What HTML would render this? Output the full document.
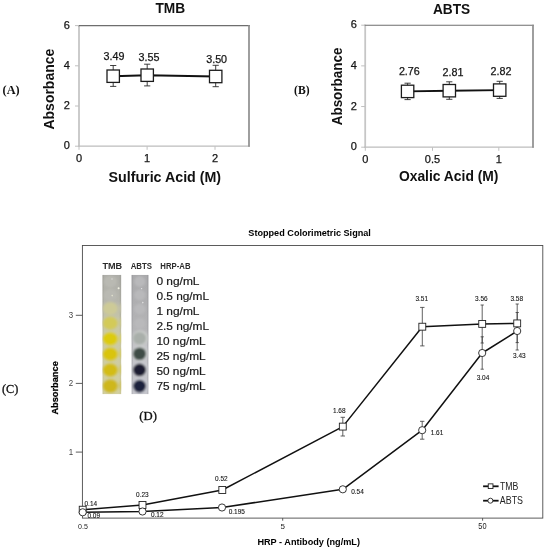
<!DOCTYPE html>
<html lang="en"><head><meta charset="utf-8"><title>Stopped Colorimetric Signal</title>
<style>html,body{margin:0;padding:0;background:#fff;}body{width:549px;height:550px;overflow:hidden;}svg{display:block;}</style>
</head><body>
<svg width="549" height="550" viewBox="0 0 549 550">
<defs>
<filter id="blur1" x="-10%" y="-10%" width="120%" height="120%"><feGaussianBlur stdDeviation="0.9"/></filter>
<filter id="blur2" x="-10%" y="-10%" width="120%" height="120%"><feGaussianBlur stdDeviation="0.5"/></filter>
<clipPath id="clipT"><rect x="102.3" y="274.8" width="18.9" height="119.5"/></clipPath>
<clipPath id="clipA"><rect x="131.4" y="274.8" width="17.2" height="119.5"/></clipPath>
<linearGradient id="stripT" x1="0" y1="0" x2="0" y2="1"><stop offset="0" stop-color="#adada8"/><stop offset="0.22" stop-color="#b6b6ad"/><stop offset="0.4" stop-color="#c9c8a8"/><stop offset="1" stop-color="#d3d0a0"/></linearGradient>
<linearGradient id="stripA" x1="0" y1="0" x2="0" y2="1"><stop offset="0" stop-color="#a9a9ab"/><stop offset="0.45" stop-color="#b4b4b6"/><stop offset="0.6" stop-color="#c4c4c8"/><stop offset="1" stop-color="#c6c6cc"/></linearGradient>
<linearGradient id="edgeF" x1="0" y1="0" x2="0" y2="1"><stop offset="0" stop-color="#9c9c96" stop-opacity="0.6"/><stop offset="0.35" stop-color="#a4a49a" stop-opacity="0.45"/><stop offset="0.6" stop-color="#b8b69a" stop-opacity="0.2"/><stop offset="1" stop-color="#bcb88c" stop-opacity="0.3"/></linearGradient>
<linearGradient id="edgeG" x1="0" y1="0" x2="0" y2="1"><stop offset="0" stop-color="#97979a" stop-opacity="0.6"/><stop offset="0.5" stop-color="#9c9ca0" stop-opacity="0.5"/><stop offset="1" stop-color="#a2a2a8" stop-opacity="0.45"/></linearGradient>
</defs>
<rect x="0" y="0" width="549" height="550" fill="#ffffff"/>
<line x1="79.0" y1="25.1" x2="79.0" y2="146.79999999999998" stroke="#c6c6c6" stroke-width="1.8"/>
<line x1="78.1" y1="146.2" x2="249.9" y2="146.2" stroke="#bdbdbd" stroke-width="1.3"/>
<line x1="78.1" y1="25.6" x2="249.9" y2="25.6" stroke="#6e6e6e" stroke-width="1.1"/>
<line x1="249.0" y1="25.1" x2="249.0" y2="146.79999999999998" stroke="#8e8e8e" stroke-width="1.7"/>
<line x1="75.0" y1="146.2" x2="79.0" y2="146.2" stroke="#c0c0c0" stroke-width="1"/>
<text x="66.89999999999999" y="149.4" font-family='"Liberation Sans", Arial, sans-serif' font-size="11" font-weight="normal" text-anchor="middle" fill="#151515" stroke="#151515" stroke-width="0.25">0</text>
<line x1="75.0" y1="106.0" x2="79.0" y2="106.0" stroke="#c0c0c0" stroke-width="1"/>
<text x="66.89999999999999" y="109.2" font-family='"Liberation Sans", Arial, sans-serif' font-size="11" font-weight="normal" text-anchor="middle" fill="#151515" stroke="#151515" stroke-width="0.25">2</text>
<line x1="75.0" y1="65.8" x2="79.0" y2="65.8" stroke="#c0c0c0" stroke-width="1"/>
<text x="66.89999999999999" y="69.0" font-family='"Liberation Sans", Arial, sans-serif' font-size="11" font-weight="normal" text-anchor="middle" fill="#151515" stroke="#151515" stroke-width="0.25">4</text>
<line x1="75.0" y1="25.60000000000001" x2="79.0" y2="25.60000000000001" stroke="#c0c0c0" stroke-width="1"/>
<text x="66.89999999999999" y="28.8" font-family='"Liberation Sans", Arial, sans-serif' font-size="11" font-weight="normal" text-anchor="middle" fill="#151515" stroke="#151515" stroke-width="0.25">6</text>
<line x1="79.0" y1="146.2" x2="79.0" y2="149.79999999999998" stroke="#c0c0c0" stroke-width="1"/>
<text x="79.0" y="161.9" font-family='"Liberation Sans", Arial, sans-serif' font-size="11" font-weight="normal" text-anchor="middle" fill="#151515" stroke="#151515" stroke-width="0.25">0</text>
<line x1="147.1" y1="146.2" x2="147.1" y2="149.79999999999998" stroke="#c0c0c0" stroke-width="1"/>
<text x="147.1" y="161.9" font-family='"Liberation Sans", Arial, sans-serif' font-size="11" font-weight="normal" text-anchor="middle" fill="#151515" stroke="#151515" stroke-width="0.25">1</text>
<line x1="215.0" y1="146.2" x2="215.0" y2="149.79999999999998" stroke="#c0c0c0" stroke-width="1"/>
<text x="215.0" y="161.9" font-family='"Liberation Sans", Arial, sans-serif' font-size="11" font-weight="normal" text-anchor="middle" fill="#151515" stroke="#151515" stroke-width="0.25">2</text>
<text x="170.3" y="12.8" font-family='"Liberation Sans", Arial, sans-serif' font-size="13.9" font-weight="bold" text-anchor="middle" fill="#111" textLength="29.7" lengthAdjust="spacingAndGlyphs">TMB</text>
<text x="108.5" y="181.5" font-family='"Liberation Sans", Arial, sans-serif' font-size="14" font-weight="bold" text-anchor="start" fill="#111" textLength="112.6" lengthAdjust="spacingAndGlyphs">Sulfuric Acid (M)</text>
<text x="54.2" y="129.5" font-family='"Liberation Sans", Arial, sans-serif' font-size="14" font-weight="bold" text-anchor="start" fill="#111" textLength="80.8" lengthAdjust="spacingAndGlyphs" transform="rotate(-90 54.2 129.5)">Absorbance</text>
<text x="2.6" y="93.9" font-family='"Liberation Serif", "Times New Roman", serif' font-size="12.4" font-weight="bold" text-anchor="start" fill="#111" textLength="17.1" lengthAdjust="spacingAndGlyphs">(A)</text>
<line x1="113.2" y1="65.5" x2="113.2" y2="86.4" stroke="#2a2a2a" stroke-width="0.9"/>
<line x1="110.10000000000001" y1="65.5" x2="116.3" y2="65.5" stroke="#2a2a2a" stroke-width="0.9"/>
<line x1="110.10000000000001" y1="86.4" x2="116.3" y2="86.4" stroke="#2a2a2a" stroke-width="0.9"/>
<line x1="147.2" y1="64.2" x2="147.2" y2="85.9" stroke="#2a2a2a" stroke-width="0.9"/>
<line x1="144.1" y1="64.2" x2="150.29999999999998" y2="64.2" stroke="#2a2a2a" stroke-width="0.9"/>
<line x1="144.1" y1="85.9" x2="150.29999999999998" y2="85.9" stroke="#2a2a2a" stroke-width="0.9"/>
<line x1="215.7" y1="65.3" x2="215.7" y2="86.7" stroke="#2a2a2a" stroke-width="0.9"/>
<line x1="212.6" y1="65.3" x2="218.79999999999998" y2="65.3" stroke="#2a2a2a" stroke-width="0.9"/>
<line x1="212.6" y1="86.7" x2="218.79999999999998" y2="86.7" stroke="#2a2a2a" stroke-width="0.9"/>
<polyline points="113.2,76.2 147.2,75.2 215.7,76.5" fill="none" stroke="#111" stroke-width="1.9"/>
<rect x="107.0" y="70.0" width="12.4" height="12.4" fill="#fff" stroke="#1c1c1c" stroke-width="1.3"/>
<text x="103.5" y="59.8" font-family='"Liberation Sans", Arial, sans-serif' font-size="10.2" font-weight="normal" text-anchor="start" fill="#151515" textLength="20.9" lengthAdjust="spacingAndGlyphs" stroke="#151515" stroke-width="0.25">3.49</text>
<rect x="141.0" y="69.0" width="12.4" height="12.4" fill="#fff" stroke="#1c1c1c" stroke-width="1.3"/>
<text x="138.6" y="61.0" font-family='"Liberation Sans", Arial, sans-serif' font-size="10.2" font-weight="normal" text-anchor="start" fill="#151515" textLength="20.9" lengthAdjust="spacingAndGlyphs" stroke="#151515" stroke-width="0.25">3.55</text>
<rect x="209.5" y="70.3" width="12.4" height="12.4" fill="#fff" stroke="#1c1c1c" stroke-width="1.3"/>
<text x="206.2" y="62.6" font-family='"Liberation Sans", Arial, sans-serif' font-size="10.2" font-weight="normal" text-anchor="start" fill="#151515" textLength="20.9" lengthAdjust="spacingAndGlyphs" stroke="#151515" stroke-width="0.25">3.50</text>
<line x1="365.2" y1="24.7" x2="365.2" y2="147.79999999999998" stroke="#c6c6c6" stroke-width="1.8"/>
<line x1="364.3" y1="147.2" x2="533.9" y2="147.2" stroke="#bdbdbd" stroke-width="1.3"/>
<line x1="364.3" y1="25.2" x2="533.9" y2="25.2" stroke="#6e6e6e" stroke-width="1.1"/>
<line x1="533.0" y1="24.7" x2="533.0" y2="147.79999999999998" stroke="#8e8e8e" stroke-width="1.7"/>
<line x1="361.2" y1="147.2" x2="365.2" y2="147.2" stroke="#c0c0c0" stroke-width="1"/>
<text x="353.8" y="150.4" font-family='"Liberation Sans", Arial, sans-serif' font-size="11" font-weight="normal" text-anchor="middle" fill="#151515" stroke="#151515" stroke-width="0.25">0</text>
<line x1="361.2" y1="106.53333333333333" x2="365.2" y2="106.53333333333333" stroke="#c0c0c0" stroke-width="1"/>
<text x="353.8" y="109.7" font-family='"Liberation Sans", Arial, sans-serif' font-size="11" font-weight="normal" text-anchor="middle" fill="#151515" stroke="#151515" stroke-width="0.25">2</text>
<line x1="361.2" y1="65.86666666666666" x2="365.2" y2="65.86666666666666" stroke="#c0c0c0" stroke-width="1"/>
<text x="353.8" y="69.1" font-family='"Liberation Sans", Arial, sans-serif' font-size="11" font-weight="normal" text-anchor="middle" fill="#151515" stroke="#151515" stroke-width="0.25">4</text>
<line x1="361.2" y1="25.200000000000003" x2="365.2" y2="25.200000000000003" stroke="#c0c0c0" stroke-width="1"/>
<text x="353.8" y="28.4" font-family='"Liberation Sans", Arial, sans-serif' font-size="11" font-weight="normal" text-anchor="middle" fill="#151515" stroke="#151515" stroke-width="0.25">6</text>
<line x1="365.3" y1="147.2" x2="365.3" y2="150.79999999999998" stroke="#c0c0c0" stroke-width="1"/>
<text x="365.3" y="163.1" font-family='"Liberation Sans", Arial, sans-serif' font-size="11" font-weight="normal" text-anchor="middle" fill="#151515" stroke="#151515" stroke-width="0.25">0</text>
<line x1="432.5" y1="147.2" x2="432.5" y2="150.79999999999998" stroke="#c0c0c0" stroke-width="1"/>
<text x="432.5" y="163.1" font-family='"Liberation Sans", Arial, sans-serif' font-size="11" font-weight="normal" text-anchor="middle" fill="#151515" stroke="#151515" stroke-width="0.25">0.5</text>
<line x1="498.8" y1="147.2" x2="498.8" y2="150.79999999999998" stroke="#c0c0c0" stroke-width="1"/>
<text x="498.8" y="163.1" font-family='"Liberation Sans", Arial, sans-serif' font-size="11" font-weight="normal" text-anchor="middle" fill="#151515" stroke="#151515" stroke-width="0.25">1</text>
<text x="451.6" y="14.3" font-family='"Liberation Sans", Arial, sans-serif' font-size="13.9" font-weight="bold" text-anchor="middle" fill="#111" textLength="37.3" lengthAdjust="spacingAndGlyphs">ABTS</text>
<text x="398.9" y="180.9" font-family='"Liberation Sans", Arial, sans-serif' font-size="14" font-weight="bold" text-anchor="start" fill="#111" textLength="99.6" lengthAdjust="spacingAndGlyphs">Oxalic Acid (M)</text>
<text x="342.3" y="125.3" font-family='"Liberation Sans", Arial, sans-serif' font-size="14" font-weight="bold" text-anchor="start" fill="#111" textLength="77.8" lengthAdjust="spacingAndGlyphs" transform="rotate(-90 342.3 125.3)">Absorbance</text>
<text x="294.1" y="93.9" font-family='"Liberation Serif", "Times New Roman", serif' font-size="12.4" font-weight="bold" text-anchor="start" fill="#111" textLength="15.5" lengthAdjust="spacingAndGlyphs">(B)</text>
<line x1="407.6" y1="83.2" x2="407.6" y2="99.6" stroke="#2a2a2a" stroke-width="0.9"/>
<line x1="404.5" y1="83.2" x2="410.70000000000005" y2="83.2" stroke="#2a2a2a" stroke-width="0.9"/>
<line x1="404.5" y1="99.6" x2="410.70000000000005" y2="99.6" stroke="#2a2a2a" stroke-width="0.9"/>
<line x1="449.3" y1="81.8" x2="449.3" y2="99.3" stroke="#2a2a2a" stroke-width="0.9"/>
<line x1="446.2" y1="81.8" x2="452.40000000000003" y2="81.8" stroke="#2a2a2a" stroke-width="0.9"/>
<line x1="446.2" y1="99.3" x2="452.40000000000003" y2="99.3" stroke="#2a2a2a" stroke-width="0.9"/>
<line x1="499.7" y1="81.3" x2="499.7" y2="98.4" stroke="#2a2a2a" stroke-width="0.9"/>
<line x1="496.59999999999997" y1="81.3" x2="502.8" y2="81.3" stroke="#2a2a2a" stroke-width="0.9"/>
<line x1="496.59999999999997" y1="98.4" x2="502.8" y2="98.4" stroke="#2a2a2a" stroke-width="0.9"/>
<polyline points="407.6,91.4 449.3,90.7 499.7,90.1" fill="none" stroke="#111" stroke-width="1.9"/>
<rect x="401.40000000000003" y="85.2" width="12.4" height="12.4" fill="#fff" stroke="#1c1c1c" stroke-width="1.3"/>
<text x="398.9" y="75.1" font-family='"Liberation Sans", Arial, sans-serif' font-size="10.2" font-weight="normal" text-anchor="start" fill="#151515" textLength="20.9" lengthAdjust="spacingAndGlyphs" stroke="#151515" stroke-width="0.25">2.76</text>
<rect x="443.1" y="84.5" width="12.4" height="12.4" fill="#fff" stroke="#1c1c1c" stroke-width="1.3"/>
<text x="442.5" y="75.9" font-family='"Liberation Sans", Arial, sans-serif' font-size="10.2" font-weight="normal" text-anchor="start" fill="#151515" textLength="20.9" lengthAdjust="spacingAndGlyphs" stroke="#151515" stroke-width="0.25">2.81</text>
<rect x="493.5" y="83.89999999999999" width="12.4" height="12.4" fill="#fff" stroke="#1c1c1c" stroke-width="1.3"/>
<text x="490.59999999999997" y="74.5" font-family='"Liberation Sans", Arial, sans-serif' font-size="10.2" font-weight="normal" text-anchor="start" fill="#151515" textLength="20.9" lengthAdjust="spacingAndGlyphs" stroke="#151515" stroke-width="0.25">2.82</text>
<rect x="82.4" y="245.5" width="460.4" height="272.6" fill="none" stroke="#4a4a4a" stroke-width="0.9"/>
<line x1="75.8" y1="315.3" x2="82.4" y2="315.3" stroke="#4a4a4a" stroke-width="0.9"/>
<text x="71.0" y="317.8" font-family='"Liberation Sans", Arial, sans-serif' font-size="9" font-weight="normal" text-anchor="middle" fill="#444" textLength="4.4" lengthAdjust="spacingAndGlyphs">3</text>
<line x1="75.8" y1="383.4" x2="82.4" y2="383.4" stroke="#4a4a4a" stroke-width="0.9"/>
<text x="71.0" y="385.9" font-family='"Liberation Sans", Arial, sans-serif' font-size="9" font-weight="normal" text-anchor="middle" fill="#444" textLength="4.4" lengthAdjust="spacingAndGlyphs">2</text>
<line x1="75.8" y1="452.1" x2="82.4" y2="452.1" stroke="#4a4a4a" stroke-width="0.9"/>
<text x="71.0" y="454.6" font-family='"Liberation Sans", Arial, sans-serif' font-size="9" font-weight="normal" text-anchor="middle" fill="#444" textLength="4.4" lengthAdjust="spacingAndGlyphs">1</text>
<line x1="282.7" y1="518.1" x2="282.7" y2="520.7" stroke="#4a4a4a" stroke-width="0.9"/>
<line x1="482.6" y1="518.1" x2="482.6" y2="520.7" stroke="#4a4a4a" stroke-width="0.9"/>
<text x="78.0" y="528.6" font-family='"Liberation Sans", Arial, sans-serif' font-size="8" font-weight="normal" text-anchor="start" fill="#222" textLength="9.8" lengthAdjust="spacingAndGlyphs">0.5</text>
<text x="282.7" y="528.5" font-family='"Liberation Sans", Arial, sans-serif' font-size="8" font-weight="normal" text-anchor="middle" fill="#222">5</text>
<text x="482.4" y="528.5" font-family='"Liberation Sans", Arial, sans-serif' font-size="8.2" font-weight="normal" text-anchor="middle" fill="#222" textLength="8.2" lengthAdjust="spacingAndGlyphs">50</text>
<text x="248.3" y="236.3" font-family='"Liberation Sans", Arial, sans-serif' font-size="9.2" font-weight="bold" text-anchor="start" fill="#000" textLength="122.6" lengthAdjust="spacingAndGlyphs">Stopped Colorimetric Signal</text>
<text x="257.4" y="544.8" font-family='"Liberation Sans", Arial, sans-serif' font-size="9.2" font-weight="bold" text-anchor="start" fill="#000" textLength="102.6" lengthAdjust="spacingAndGlyphs">HRP - Antibody (ng/mL)</text>
<text x="57.8" y="414.6" font-family='"Liberation Sans", Arial, sans-serif' font-size="9.0" font-weight="bold" text-anchor="start" fill="#000" textLength="53.4" lengthAdjust="spacingAndGlyphs" transform="rotate(-90 57.8 414.6)" stroke="#000" stroke-width="0.25">Absorbance</text>
<text x="2.0" y="392.5" font-family='"Liberation Serif", "Times New Roman", serif' font-size="12.4" font-weight="normal" text-anchor="start" fill="#111" textLength="16.4" lengthAdjust="spacingAndGlyphs" stroke="#111" stroke-width="0.3">(C)</text>
<text x="139.3" y="420.0" font-family='"Liberation Serif", "Times New Roman", serif' font-size="12.4" font-weight="normal" text-anchor="start" fill="#111" textLength="17.6" lengthAdjust="spacingAndGlyphs" stroke="#111" stroke-width="0.3">(D)</text>
<line x1="342.8" y1="417.3" x2="342.8" y2="436.0" stroke="#3a3a3a" stroke-width="0.8"/>
<line x1="340.6" y1="417.3" x2="345.0" y2="417.3" stroke="#3a3a3a" stroke-width="0.8"/>
<line x1="340.6" y1="436.0" x2="345.0" y2="436.0" stroke="#3a3a3a" stroke-width="0.8"/>
<line x1="422.3" y1="307.4" x2="422.3" y2="345.9" stroke="#3a3a3a" stroke-width="0.8"/>
<line x1="420.1" y1="307.4" x2="424.5" y2="307.4" stroke="#3a3a3a" stroke-width="0.8"/>
<line x1="420.1" y1="345.9" x2="424.5" y2="345.9" stroke="#3a3a3a" stroke-width="0.8"/>
<line x1="482.2" y1="305.0" x2="482.2" y2="343.0" stroke="#3a3a3a" stroke-width="0.8"/>
<line x1="480.59999999999997" y1="305.0" x2="483.8" y2="305.0" stroke="#3a3a3a" stroke-width="0.8"/>
<line x1="480.59999999999997" y1="343.0" x2="483.8" y2="343.0" stroke="#3a3a3a" stroke-width="0.8"/>
<line x1="517.2" y1="304.0" x2="517.2" y2="342.6" stroke="#3a3a3a" stroke-width="0.8"/>
<line x1="515.6" y1="304.0" x2="518.8000000000001" y2="304.0" stroke="#3a3a3a" stroke-width="0.8"/>
<line x1="515.6" y1="342.6" x2="518.8000000000001" y2="342.6" stroke="#3a3a3a" stroke-width="0.8"/>
<line x1="422.2" y1="421.3" x2="422.2" y2="439.2" stroke="#3a3a3a" stroke-width="0.8"/>
<line x1="420.0" y1="421.3" x2="424.4" y2="421.3" stroke="#3a3a3a" stroke-width="0.8"/>
<line x1="420.0" y1="439.2" x2="424.4" y2="439.2" stroke="#3a3a3a" stroke-width="0.8"/>
<line x1="482.2" y1="336.8" x2="482.2" y2="369.2" stroke="#3a3a3a" stroke-width="0.8"/>
<line x1="480.59999999999997" y1="336.8" x2="483.8" y2="336.8" stroke="#3a3a3a" stroke-width="0.8"/>
<line x1="480.59999999999997" y1="369.2" x2="483.8" y2="369.2" stroke="#3a3a3a" stroke-width="0.8"/>
<line x1="517.2" y1="312.5" x2="517.2" y2="350.0" stroke="#3a3a3a" stroke-width="0.8"/>
<line x1="515.6" y1="312.5" x2="518.8000000000001" y2="312.5" stroke="#3a3a3a" stroke-width="0.8"/>
<line x1="515.6" y1="350.0" x2="518.8000000000001" y2="350.0" stroke="#3a3a3a" stroke-width="0.8"/>
<polyline points="82.7,509.7 142.5,505.0 222.3,490.0 342.8,426.6 422.3,326.7 482.2,323.9 517.2,323.4" fill="none" stroke="#111" stroke-width="1.5" stroke-linejoin="round"/>
<polyline points="82.7,512.3 142.5,511.5 222.0,507.5 342.8,489.3 422.2,430.2 482.2,353.0 517.2,331.0" fill="none" stroke="#111" stroke-width="1.5" stroke-linejoin="round"/>
<rect x="79.25" y="506.25" width="6.9" height="6.9" fill="#fff" stroke="#222" stroke-width="0.9"/>
<rect x="139.05" y="501.55" width="6.9" height="6.9" fill="#fff" stroke="#222" stroke-width="0.9"/>
<rect x="218.85000000000002" y="486.55" width="6.9" height="6.9" fill="#fff" stroke="#222" stroke-width="0.9"/>
<rect x="339.35" y="423.15000000000003" width="6.9" height="6.9" fill="#fff" stroke="#222" stroke-width="0.9"/>
<rect x="418.85" y="323.25" width="6.9" height="6.9" fill="#fff" stroke="#222" stroke-width="0.9"/>
<rect x="478.75" y="320.45" width="6.9" height="6.9" fill="#fff" stroke="#222" stroke-width="0.9"/>
<rect x="513.75" y="319.95" width="6.9" height="6.9" fill="#fff" stroke="#222" stroke-width="0.9"/>
<circle cx="82.7" cy="512.3" r="3.6" fill="#fff" stroke="#222" stroke-width="0.9"/>
<circle cx="142.5" cy="511.5" r="3.6" fill="#fff" stroke="#222" stroke-width="0.9"/>
<circle cx="222.0" cy="507.5" r="3.6" fill="#fff" stroke="#222" stroke-width="0.9"/>
<circle cx="342.8" cy="489.3" r="3.6" fill="#fff" stroke="#222" stroke-width="0.9"/>
<circle cx="422.2" cy="430.2" r="3.6" fill="#fff" stroke="#222" stroke-width="0.9"/>
<circle cx="482.2" cy="353.0" r="3.6" fill="#fff" stroke="#222" stroke-width="0.9"/>
<circle cx="517.2" cy="331.0" r="3.6" fill="#fff" stroke="#222" stroke-width="0.9"/>
<text x="90.8" y="505.6" font-family='"Liberation Sans", Arial, sans-serif' font-size="7.6" font-weight="normal" text-anchor="middle" fill="#151515" textLength="12.6" lengthAdjust="spacingAndGlyphs" stroke="#151515" stroke-width="0.12">0.14</text>
<text x="93.7" y="517.5" font-family='"Liberation Sans", Arial, sans-serif' font-size="7.6" font-weight="normal" text-anchor="middle" fill="#151515" textLength="12.6" lengthAdjust="spacingAndGlyphs" stroke="#151515" stroke-width="0.12">0.09</text>
<text x="142.3" y="497.4" font-family='"Liberation Sans", Arial, sans-serif' font-size="7.6" font-weight="normal" text-anchor="middle" fill="#151515" textLength="12.6" lengthAdjust="spacingAndGlyphs" stroke="#151515" stroke-width="0.12">0.23</text>
<text x="157.2" y="517.2" font-family='"Liberation Sans", Arial, sans-serif' font-size="7.6" font-weight="normal" text-anchor="middle" fill="#151515" textLength="12.6" lengthAdjust="spacingAndGlyphs" stroke="#151515" stroke-width="0.12">0.12</text>
<text x="221.4" y="481.1" font-family='"Liberation Sans", Arial, sans-serif' font-size="7.6" font-weight="normal" text-anchor="middle" fill="#151515" textLength="12.6" lengthAdjust="spacingAndGlyphs" stroke="#151515" stroke-width="0.12">0.52</text>
<text x="236.8" y="514.4" font-family='"Liberation Sans", Arial, sans-serif' font-size="7.6" font-weight="normal" text-anchor="middle" fill="#151515" textLength="16.2" lengthAdjust="spacingAndGlyphs" stroke="#151515" stroke-width="0.12">0.195</text>
<text x="339.2" y="412.8" font-family='"Liberation Sans", Arial, sans-serif' font-size="7.6" font-weight="normal" text-anchor="middle" fill="#151515" textLength="12.6" lengthAdjust="spacingAndGlyphs" stroke="#151515" stroke-width="0.12">1.68</text>
<text x="357.5" y="494.0" font-family='"Liberation Sans", Arial, sans-serif' font-size="7.6" font-weight="normal" text-anchor="middle" fill="#151515" textLength="12.6" lengthAdjust="spacingAndGlyphs" stroke="#151515" stroke-width="0.12">0.54</text>
<text x="421.7" y="301.2" font-family='"Liberation Sans", Arial, sans-serif' font-size="7.6" font-weight="normal" text-anchor="middle" fill="#151515" textLength="12.6" lengthAdjust="spacingAndGlyphs" stroke="#151515" stroke-width="0.12">3.51</text>
<text x="437.0" y="435.0" font-family='"Liberation Sans", Arial, sans-serif' font-size="7.6" font-weight="normal" text-anchor="middle" fill="#151515" textLength="12.6" lengthAdjust="spacingAndGlyphs" stroke="#151515" stroke-width="0.12">1.61</text>
<text x="481.4" y="300.6" font-family='"Liberation Sans", Arial, sans-serif' font-size="7.6" font-weight="normal" text-anchor="middle" fill="#151515" textLength="12.6" lengthAdjust="spacingAndGlyphs" stroke="#151515" stroke-width="0.12">3.56</text>
<text x="483.0" y="380.4" font-family='"Liberation Sans", Arial, sans-serif' font-size="7.6" font-weight="normal" text-anchor="middle" fill="#151515" textLength="12.6" lengthAdjust="spacingAndGlyphs" stroke="#151515" stroke-width="0.12">3.04</text>
<text x="516.7" y="301.2" font-family='"Liberation Sans", Arial, sans-serif' font-size="7.6" font-weight="normal" text-anchor="middle" fill="#151515" textLength="12.6" lengthAdjust="spacingAndGlyphs" stroke="#151515" stroke-width="0.12">3.58</text>
<text x="519.4" y="358.1" font-family='"Liberation Sans", Arial, sans-serif' font-size="7.6" font-weight="normal" text-anchor="middle" fill="#151515" textLength="12.6" lengthAdjust="spacingAndGlyphs" stroke="#151515" stroke-width="0.12">3.43</text>
<line x1="483.1" y1="486.3" x2="498.6" y2="486.3" stroke="#111" stroke-width="1.8"/>
<rect x="488.25" y="483.84999999999997" width="4.7" height="4.7" fill="#fff" stroke="#222" stroke-width="0.9"/>
<text x="500.0" y="489.8" font-family='"Liberation Sans", Arial, sans-serif' font-size="10.2" font-weight="normal" text-anchor="start" fill="#222" textLength="18.4" lengthAdjust="spacingAndGlyphs">TMB</text>
<line x1="483.1" y1="500.7" x2="498.6" y2="500.7" stroke="#111" stroke-width="1.8"/>
<circle cx="490.4" cy="500.7" r="2.5" fill="#fff" stroke="#222" stroke-width="0.9"/>
<text x="499.8" y="504.0" font-family='"Liberation Sans", Arial, sans-serif' font-size="10.2" font-weight="normal" text-anchor="start" fill="#222" textLength="23.2" lengthAdjust="spacingAndGlyphs">ABTS</text>
<text x="102.4" y="268.8" font-family='"Liberation Sans", Arial, sans-serif' font-size="8.4" font-weight="bold" text-anchor="start" fill="#2a2a2a" textLength="19.7" lengthAdjust="spacingAndGlyphs">TMB</text>
<text x="130.7" y="268.8" font-family='"Liberation Sans", Arial, sans-serif' font-size="8.4" font-weight="bold" text-anchor="start" fill="#2a2a2a" textLength="21.3" lengthAdjust="spacingAndGlyphs">ABTS</text>
<text x="160.3" y="268.8" font-family='"Liberation Sans", Arial, sans-serif' font-size="8.4" font-weight="bold" text-anchor="start" fill="#2a2a2a" textLength="30.2" lengthAdjust="spacingAndGlyphs">HRP-AB</text>
<text x="156.4" y="285.3" font-family='"Liberation Sans", Arial, sans-serif' font-size="10.8" font-weight="normal" text-anchor="start" fill="#1a1a1a" textLength="43.1" lengthAdjust="spacingAndGlyphs" stroke="#1a1a1a" stroke-width="0.2">0 ng/mL</text>
<text x="156.4" y="300.3" font-family='"Liberation Sans", Arial, sans-serif' font-size="10.8" font-weight="normal" text-anchor="start" fill="#1a1a1a" textLength="52.7" lengthAdjust="spacingAndGlyphs" stroke="#1a1a1a" stroke-width="0.2">0.5 ng/mL</text>
<text x="156.4" y="315.3" font-family='"Liberation Sans", Arial, sans-serif' font-size="10.8" font-weight="normal" text-anchor="start" fill="#1a1a1a" textLength="43.1" lengthAdjust="spacingAndGlyphs" stroke="#1a1a1a" stroke-width="0.2">1 ng/mL</text>
<text x="156.4" y="330.0" font-family='"Liberation Sans", Arial, sans-serif' font-size="10.8" font-weight="normal" text-anchor="start" fill="#1a1a1a" textLength="52.7" lengthAdjust="spacingAndGlyphs" stroke="#1a1a1a" stroke-width="0.2">2.5 ng/mL</text>
<text x="156.4" y="345.0" font-family='"Liberation Sans", Arial, sans-serif' font-size="10.8" font-weight="normal" text-anchor="start" fill="#1a1a1a" textLength="49.300000000000004" lengthAdjust="spacingAndGlyphs" stroke="#1a1a1a" stroke-width="0.2">10 ng/mL</text>
<text x="156.4" y="359.9" font-family='"Liberation Sans", Arial, sans-serif' font-size="10.8" font-weight="normal" text-anchor="start" fill="#1a1a1a" textLength="49.300000000000004" lengthAdjust="spacingAndGlyphs" stroke="#1a1a1a" stroke-width="0.2">25 ng/mL</text>
<text x="156.4" y="374.9" font-family='"Liberation Sans", Arial, sans-serif' font-size="10.8" font-weight="normal" text-anchor="start" fill="#1a1a1a" textLength="49.300000000000004" lengthAdjust="spacingAndGlyphs" stroke="#1a1a1a" stroke-width="0.2">50 ng/mL</text>
<text x="156.4" y="390.1" font-family='"Liberation Sans", Arial, sans-serif' font-size="10.8" font-weight="normal" text-anchor="start" fill="#1a1a1a" textLength="49.300000000000004" lengthAdjust="spacingAndGlyphs" stroke="#1a1a1a" stroke-width="0.2">75 ng/mL</text>
<g clip-path="url(#clipT)">
<rect x="102.4" y="274.8" width="19.4" height="119.5" fill="url(#stripT)"/>
<rect x="102.3" y="274.8" width="1.5" height="119.5" fill="url(#edgeF)"/>
<rect x="119.6" y="274.8" width="1.6" height="119.5" fill="url(#edgeF)"/>
<g filter="url(#blur1)">
<ellipse cx="110.4" cy="281.5" rx="6.6" ry="6.0" fill="#b9b9b2"/>
<ellipse cx="110.4" cy="295.0" rx="6.6" ry="6.0" fill="#b9b9b2"/>
<ellipse cx="125.6" cy="308.1" rx="7.0" ry="6.2" fill="#c4c3a6" opacity="0.8"/>
<ellipse cx="110.4" cy="308.6" rx="7.9" ry="7.1" fill="#c4c3a6"/>
<ellipse cx="110.2" cy="308.6" rx="7.0" ry="6.2" fill="#cecb96" opacity="0.9"/>
<ellipse cx="125.6" cy="322.7" rx="7.0" ry="6.2" fill="#cbc88c" opacity="0.8"/>
<ellipse cx="110.4" cy="323.2" rx="7.9" ry="7.1" fill="#cbc88c"/>
<ellipse cx="110.2" cy="323.2" rx="7.0" ry="6.2" fill="#d3ca58" opacity="1.0"/>
<ellipse cx="125.6" cy="338.4" rx="7.0" ry="6.2" fill="#d6cf6a" opacity="0.8"/>
<ellipse cx="110.4" cy="338.9" rx="7.9" ry="7.1" fill="#d6cf6a"/>
<ellipse cx="110.2" cy="338.9" rx="7.0" ry="6.2" fill="#dccb10" opacity="1.0"/>
<ellipse cx="125.6" cy="353.7" rx="7.0" ry="6.2" fill="#d5cc64" opacity="0.8"/>
<ellipse cx="110.4" cy="354.2" rx="7.9" ry="7.1" fill="#d5cc64"/>
<ellipse cx="110.2" cy="354.2" rx="7.0" ry="6.2" fill="#d9c40e" opacity="1.0"/>
<ellipse cx="125.6" cy="369.6" rx="7.0" ry="6.2" fill="#d2c864" opacity="0.8"/>
<ellipse cx="110.4" cy="370.1" rx="7.9" ry="7.1" fill="#d2c864"/>
<ellipse cx="110.2" cy="370.1" rx="7.0" ry="6.2" fill="#d3bc12" opacity="1.0"/>
<ellipse cx="125.6" cy="385.5" rx="7.0" ry="6.2" fill="#cfc464" opacity="0.8"/>
<ellipse cx="110.4" cy="386.0" rx="7.9" ry="7.1" fill="#cfc464"/>
<ellipse cx="110.2" cy="386.0" rx="7.0" ry="6.2" fill="#ceb71a" opacity="1.0"/>
</g>
<circle cx="118.6" cy="288.3" r="1.0" fill="#f2f2e4" filter="url(#blur2)"/>
<circle cx="112.0" cy="279.0" r="0.7" fill="#dcdcdc" filter="url(#blur2)"/>
<circle cx="112.2" cy="295.6" r="0.8" fill="#e2e2cf" filter="url(#blur2)"/>
</g>
<g clip-path="url(#clipA)">
<rect x="131.4" y="274.8" width="17.2" height="119.5" fill="url(#stripA)"/>
<rect x="131.4" y="274.8" width="1.4" height="119.5" fill="url(#edgeG)"/>
<rect x="147.2" y="274.8" width="1.4" height="119.5" fill="url(#edgeG)"/>
<g filter="url(#blur1)">
<ellipse cx="139.8" cy="281.5" rx="5.6" ry="5.4" fill="#b9b9bb"/>
<ellipse cx="139.8" cy="295.0" rx="5.6" ry="5.4" fill="#b9b9bb"/>
<ellipse cx="139.8" cy="309.0" rx="5.6" ry="5.4" fill="#b9b9bb"/>
<ellipse cx="139.8" cy="323.5" rx="5.6" ry="5.4" fill="#b9b9bb"/>
<ellipse cx="140.2" cy="338.0" rx="7.8" ry="7.4" fill="#cdd0cd"/>
<ellipse cx="139.6" cy="338.3" rx="6.5" ry="6.3" fill="#a9afaa"/>
<ellipse cx="140.2" cy="353.4" rx="7.8" ry="7.4" fill="#cfd2d1"/>
<ellipse cx="139.6" cy="353.7" rx="6.5" ry="6.3" fill="#3f4d46"/>
<ellipse cx="140.2" cy="369.6" rx="7.8" ry="7.4" fill="#cdcfd4"/>
<ellipse cx="139.6" cy="369.90000000000003" rx="6.5" ry="6.3" fill="#1a1b30"/>
<ellipse cx="140.2" cy="385.8" rx="7.8" ry="7.4" fill="#cbced6"/>
<ellipse cx="139.6" cy="386.1" rx="6.5" ry="6.3" fill="#1c223c"/>
</g>
<circle cx="141.6" cy="288.6" r="0.7" fill="#e4e4e4" filter="url(#blur2)"/>
<circle cx="142.8" cy="302.6" r="0.8" fill="#e0e0e0" filter="url(#blur2)"/>
</g>
</svg>
</body></html>
